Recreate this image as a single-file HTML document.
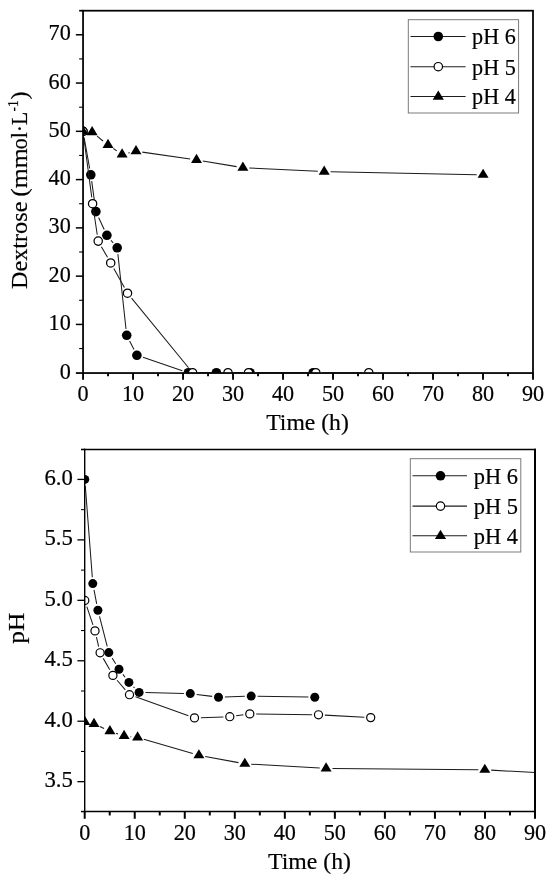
<!DOCTYPE html>
<html lang="en">
<head>
<meta charset="utf-8">
<title>Dextrose and pH versus time</title>
<style>
html,body{margin:0;padding:0;background:#fff;}
svg{display:block;}
text{font-family:"Liberation Serif", serif;fill:#000;stroke:#000;stroke-width:0.2px;}
</style>
</head>
<body>
<svg width="550" height="878" viewBox="0 0 550 878">
<rect x="0" y="0" width="550" height="878" fill="#fff"/>
<clipPath id="c1"><rect x="83.0" y="10.7" width="450.4" height="362.0"/></clipPath>
<g clip-path="url(#c1)">
<path d="M84.13 137.70L89.67 168.50M91.68 181.14L95.02 205.26M98.59 217.41L104.21 229.49M110.97 240.24L113.13 242.86M117.89 254.16L126.01 328.94M129.61 341.00L133.99 349.60M142.96 357.35L182.34 370.65M194.80 372.70L210.00 372.70M222.80 372.70L243.60 372.70M256.40 372.70L306.80 372.70" fill="none" stroke="#1c1c1c" stroke-width="1.05"/>
<circle cx="83.00" cy="131.40" r="4.80" fill="#000"/>
<circle cx="90.80" cy="174.80" r="4.80" fill="#000"/>
<circle cx="95.90" cy="211.60" r="4.80" fill="#000"/>
<circle cx="106.90" cy="235.30" r="4.80" fill="#000"/>
<circle cx="117.20" cy="247.80" r="4.80" fill="#000"/>
<circle cx="126.70" cy="335.30" r="4.80" fill="#000"/>
<circle cx="136.90" cy="355.30" r="4.80" fill="#000"/>
<circle cx="188.40" cy="372.70" r="4.80" fill="#000"/>
<circle cx="216.40" cy="372.70" r="4.80" fill="#000"/>
<circle cx="250.00" cy="372.70" r="4.80" fill="#000"/>
<circle cx="313.20" cy="372.70" r="4.80" fill="#000"/>
<path d="M83.84 137.74L91.76 197.36M93.55 210.03L97.25 234.77M101.38 246.65L107.52 257.35M113.80 268.50L124.40 287.60M131.55 298.15L188.55 367.75M199.00 372.70L221.60 372.70M234.40 372.70L242.10 372.70M254.90 372.70L309.40 372.70M322.20 372.70L362.40 372.70" fill="none" stroke="#1c1c1c" stroke-width="1.05"/>
<circle cx="83.00" cy="131.40" r="4.15" fill="#fff" stroke="#000" stroke-width="1.25"/>
<circle cx="92.60" cy="203.70" r="4.15" fill="#fff" stroke="#000" stroke-width="1.25"/>
<circle cx="98.20" cy="241.10" r="4.15" fill="#fff" stroke="#000" stroke-width="1.25"/>
<circle cx="110.70" cy="262.90" r="4.15" fill="#fff" stroke="#000" stroke-width="1.25"/>
<circle cx="127.50" cy="293.20" r="4.15" fill="#fff" stroke="#000" stroke-width="1.25"/>
<circle cx="192.60" cy="372.70" r="4.15" fill="#fff" stroke="#000" stroke-width="1.25"/>
<circle cx="228.00" cy="372.70" r="4.15" fill="#fff" stroke="#000" stroke-width="1.25"/>
<circle cx="248.50" cy="372.70" r="4.15" fill="#fff" stroke="#000" stroke-width="1.25"/>
<circle cx="315.80" cy="372.70" r="4.15" fill="#fff" stroke="#000" stroke-width="1.25"/>
<circle cx="368.80" cy="372.70" r="4.15" fill="#fff" stroke="#000" stroke-width="1.25"/>
<path d="M97.09 136.21L103.01 140.99M113.33 148.55L116.77 150.85M128.34 152.96L129.76 152.64M142.33 152.11L190.17 158.99M202.81 160.96L236.59 166.64M249.29 168.01L317.81 171.29M330.60 171.73L476.70 174.67" fill="none" stroke="#1c1c1c" stroke-width="1.05"/>
<polygon points="83.00,125.47 77.50,134.67 88.50,134.67" fill="#000"/>
<polygon points="92.10,126.07 86.60,135.27 97.60,135.27" fill="#000"/>
<polygon points="108.00,138.87 102.50,148.07 113.50,148.07" fill="#000"/>
<polygon points="122.10,148.27 116.60,157.47 127.60,157.47" fill="#000"/>
<polygon points="136.00,145.07 130.50,154.27 141.50,154.27" fill="#000"/>
<polygon points="196.50,153.77 191.00,162.97 202.00,162.97" fill="#000"/>
<polygon points="242.90,161.57 237.40,170.77 248.40,170.77" fill="#000"/>
<polygon points="324.20,165.47 318.70,174.67 329.70,174.67" fill="#000"/>
<polygon points="483.10,168.67 477.60,177.87 488.60,177.87" fill="#000"/>
</g>
<rect x="83.05" y="10.7" width="449.95" height="362.35" fill="none" stroke="#000" stroke-width="1.75"/>
<line x1="83.05" y1="373.05" x2="83.05" y2="379.75" stroke="#000" stroke-width="1.9" />
<text x="83.05" y="400.90" font-size="23" text-anchor="middle" textLength="11.1" lengthAdjust="spacingAndGlyphs" >0</text>
<line x1="108.05" y1="373.05" x2="108.05" y2="376.35" stroke="#000" stroke-width="1.9" />
<line x1="133.04" y1="373.05" x2="133.04" y2="379.75" stroke="#000" stroke-width="1.9" />
<text x="133.04" y="400.90" font-size="23" text-anchor="middle" textLength="22.2" lengthAdjust="spacingAndGlyphs" >10</text>
<line x1="158.04" y1="373.05" x2="158.04" y2="376.35" stroke="#000" stroke-width="1.9" />
<line x1="183.04" y1="373.05" x2="183.04" y2="379.75" stroke="#000" stroke-width="1.9" />
<text x="183.04" y="400.90" font-size="23" text-anchor="middle" textLength="22.2" lengthAdjust="spacingAndGlyphs" >20</text>
<line x1="208.04" y1="373.05" x2="208.04" y2="376.35" stroke="#000" stroke-width="1.9" />
<line x1="233.03" y1="373.05" x2="233.03" y2="379.75" stroke="#000" stroke-width="1.9" />
<text x="233.03" y="400.90" font-size="23" text-anchor="middle" textLength="22.2" lengthAdjust="spacingAndGlyphs" >30</text>
<line x1="258.03" y1="373.05" x2="258.03" y2="376.35" stroke="#000" stroke-width="1.9" />
<line x1="283.03" y1="373.05" x2="283.03" y2="379.75" stroke="#000" stroke-width="1.9" />
<text x="283.03" y="400.90" font-size="23" text-anchor="middle" textLength="22.2" lengthAdjust="spacingAndGlyphs" >40</text>
<line x1="308.02" y1="373.05" x2="308.02" y2="376.35" stroke="#000" stroke-width="1.9" />
<line x1="333.02" y1="373.05" x2="333.02" y2="379.75" stroke="#000" stroke-width="1.9" />
<text x="333.02" y="400.90" font-size="23" text-anchor="middle" textLength="22.2" lengthAdjust="spacingAndGlyphs" >50</text>
<line x1="358.02" y1="373.05" x2="358.02" y2="376.35" stroke="#000" stroke-width="1.9" />
<line x1="383.02" y1="373.05" x2="383.02" y2="379.75" stroke="#000" stroke-width="1.9" />
<text x="383.02" y="400.90" font-size="23" text-anchor="middle" textLength="22.2" lengthAdjust="spacingAndGlyphs" >60</text>
<line x1="408.01" y1="373.05" x2="408.01" y2="376.35" stroke="#000" stroke-width="1.9" />
<line x1="433.01" y1="373.05" x2="433.01" y2="379.75" stroke="#000" stroke-width="1.9" />
<text x="433.01" y="400.90" font-size="23" text-anchor="middle" textLength="22.2" lengthAdjust="spacingAndGlyphs" >70</text>
<line x1="458.01" y1="373.05" x2="458.01" y2="376.35" stroke="#000" stroke-width="1.9" />
<line x1="483.01" y1="373.05" x2="483.01" y2="379.75" stroke="#000" stroke-width="1.9" />
<text x="483.01" y="400.90" font-size="23" text-anchor="middle" textLength="22.2" lengthAdjust="spacingAndGlyphs" >80</text>
<line x1="508.00" y1="373.05" x2="508.00" y2="376.35" stroke="#000" stroke-width="1.9" />
<line x1="533.00" y1="373.05" x2="533.00" y2="379.75" stroke="#000" stroke-width="1.9" />
<text x="533.00" y="400.90" font-size="23" text-anchor="middle" textLength="22.2" lengthAdjust="spacingAndGlyphs" >90</text>
<line x1="75.85" y1="373.05" x2="83.05" y2="373.05" stroke="#000" stroke-width="1.75" />
<text x="70.80" y="378.65" font-size="23" text-anchor="end" textLength="11.1" lengthAdjust="spacingAndGlyphs" >0</text>
<line x1="79.15" y1="348.56" x2="83.05" y2="348.56" stroke="#000" stroke-width="1.1" />
<line x1="75.85" y1="324.43" x2="83.05" y2="324.43" stroke="#000" stroke-width="1.5" />
<text x="70.80" y="330.03" font-size="23" text-anchor="end" textLength="22.2" lengthAdjust="spacingAndGlyphs" >10</text>
<line x1="79.15" y1="300.29" x2="83.05" y2="300.29" stroke="#000" stroke-width="1.1" />
<line x1="75.85" y1="276.15" x2="83.05" y2="276.15" stroke="#000" stroke-width="1.5" />
<text x="70.80" y="281.75" font-size="23" text-anchor="end" textLength="22.2" lengthAdjust="spacingAndGlyphs" >20</text>
<line x1="79.15" y1="252.01" x2="83.05" y2="252.01" stroke="#000" stroke-width="1.1" />
<line x1="75.85" y1="227.88" x2="83.05" y2="227.88" stroke="#000" stroke-width="1.5" />
<text x="70.80" y="233.47" font-size="23" text-anchor="end" textLength="22.2" lengthAdjust="spacingAndGlyphs" >30</text>
<line x1="79.15" y1="203.74" x2="83.05" y2="203.74" stroke="#000" stroke-width="1.1" />
<line x1="75.85" y1="179.60" x2="83.05" y2="179.60" stroke="#000" stroke-width="1.5" />
<text x="70.80" y="185.20" font-size="23" text-anchor="end" textLength="22.2" lengthAdjust="spacingAndGlyphs" >40</text>
<line x1="79.15" y1="155.46" x2="83.05" y2="155.46" stroke="#000" stroke-width="1.1" />
<line x1="75.85" y1="131.33" x2="83.05" y2="131.33" stroke="#000" stroke-width="1.5" />
<text x="70.80" y="136.93" font-size="23" text-anchor="end" textLength="22.2" lengthAdjust="spacingAndGlyphs" >50</text>
<line x1="79.15" y1="107.19" x2="83.05" y2="107.19" stroke="#000" stroke-width="1.1" />
<line x1="75.85" y1="83.05" x2="83.05" y2="83.05" stroke="#000" stroke-width="1.5" />
<text x="70.80" y="88.65" font-size="23" text-anchor="end" textLength="22.2" lengthAdjust="spacingAndGlyphs" >60</text>
<line x1="79.15" y1="58.91" x2="83.05" y2="58.91" stroke="#000" stroke-width="1.1" />
<line x1="75.85" y1="34.78" x2="83.05" y2="34.78" stroke="#000" stroke-width="1.5" />
<text x="70.80" y="40.38" font-size="23" text-anchor="end" textLength="22.2" lengthAdjust="spacingAndGlyphs" >70</text>
<line x1="79.15" y1="10.70" x2="83.05" y2="10.70" stroke="#000" stroke-width="1.75" />
<text x="266.20" y="429.50" font-size="24" text-anchor="start" textLength="82.6" lengthAdjust="spacingAndGlyphs" >Time (h)</text>
<g transform="translate(27.1,289.0) rotate(-90)">
<text x="0.00" y="0.00" font-size="24" text-anchor="start" textLength="87.4" lengthAdjust="spacingAndGlyphs" >Dextrose</text>
<text x="92.20" y="0.00" font-size="24" text-anchor="start" textLength="48.5" lengthAdjust="spacingAndGlyphs" >(mm</text>
<text x="139.80" y="0.00" font-size="24" text-anchor="start" textLength="37.4" lengthAdjust="spacingAndGlyphs" >ol·L</text>
<text x="177.60" y="-9.00" font-size="14.5" text-anchor="start" textLength="11.2" lengthAdjust="spacingAndGlyphs" >-1</text>
<text x="189.40" y="0.00" font-size="24" text-anchor="start" >)</text>
</g>
<rect x="408.30" y="19.70" width="110.30" height="93.30" fill="#fff" stroke="#747474" stroke-width="0.95"/>
<line x1="410.50" y1="36.50" x2="465.60" y2="36.50" stroke="#1c1c1c" stroke-width="1.05" />
<circle cx="438.30" cy="36.50" r="4.80" fill="#000"/>
<text x="472.10" y="44.30" font-size="22.6" text-anchor="start" textLength="43.7" lengthAdjust="spacingAndGlyphs" >pH 6</text>
<line x1="410.50" y1="66.70" x2="465.60" y2="66.70" stroke="#1c1c1c" stroke-width="1.05" />
<circle cx="438.30" cy="66.70" r="4.20" fill="#fff" stroke="#000" stroke-width="1.2"/>
<text x="472.10" y="74.50" font-size="22.6" text-anchor="start" textLength="43.7" lengthAdjust="spacingAndGlyphs" >pH 5</text>
<line x1="410.50" y1="96.40" x2="465.60" y2="96.40" stroke="#1c1c1c" stroke-width="1.05" />
<polygon points="438.30,90.40 432.70,99.70 443.90,99.70" fill="#000"/>
<text x="472.10" y="104.20" font-size="22.6" text-anchor="start" textLength="43.7" lengthAdjust="spacingAndGlyphs" >pH 4</text>
<clipPath id="c2"><rect x="84.5" y="449.1" width="450.20000000000005" height="362.69999999999993"/></clipPath>
<g clip-path="url(#c2)"><g transform="translate(0.3,0.3)">
<path d="M84.99 485.48L92.01 576.92M93.71 589.59L96.39 603.61M99.19 616.10L106.91 646.10M111.84 657.76L115.36 663.54M122.56 674.11L124.74 676.99M133.17 686.58L134.23 687.62M145.20 692.25L183.60 693.15M196.35 694.11L211.85 696.09M224.60 696.68L244.50 696.02M257.30 695.91L308.10 696.79" fill="none" stroke="#1c1c1c" stroke-width="1.05"/>
<circle cx="84.50" cy="479.10" r="4.50" fill="#000"/>
<circle cx="92.50" cy="583.30" r="4.50" fill="#000"/>
<circle cx="97.60" cy="609.90" r="4.50" fill="#000"/>
<circle cx="108.50" cy="652.30" r="4.50" fill="#000"/>
<circle cx="118.70" cy="669.00" r="4.50" fill="#000"/>
<circle cx="128.60" cy="682.10" r="4.50" fill="#000"/>
<circle cx="138.80" cy="692.10" r="4.50" fill="#000"/>
<circle cx="190.00" cy="693.30" r="4.50" fill="#000"/>
<circle cx="218.20" cy="696.90" r="4.50" fill="#000"/>
<circle cx="250.90" cy="695.80" r="4.50" fill="#000"/>
<circle cx="314.50" cy="696.90" r="4.50" fill="#000"/>
<path d="M86.54 606.27L92.66 624.53M96.15 636.83L98.35 646.27M102.95 658.07L109.45 669.53M116.77 679.95L125.03 689.55M135.23 696.55L188.17 715.45M200.60 717.38L223.10 716.62M235.84 715.51L243.16 714.49M255.90 713.68L311.80 714.42M324.59 714.84L364.01 716.96" fill="none" stroke="#1c1c1c" stroke-width="1.05"/>
<circle cx="84.50" cy="600.20" r="4.05" fill="#fff" stroke="#000" stroke-width="1.2"/>
<circle cx="94.70" cy="630.60" r="4.05" fill="#fff" stroke="#000" stroke-width="1.2"/>
<circle cx="99.80" cy="652.50" r="4.05" fill="#fff" stroke="#000" stroke-width="1.2"/>
<circle cx="112.60" cy="675.10" r="4.05" fill="#fff" stroke="#000" stroke-width="1.2"/>
<circle cx="129.20" cy="694.40" r="4.05" fill="#fff" stroke="#000" stroke-width="1.2"/>
<circle cx="194.20" cy="717.60" r="4.05" fill="#fff" stroke="#000" stroke-width="1.2"/>
<circle cx="229.50" cy="716.40" r="4.05" fill="#fff" stroke="#000" stroke-width="1.2"/>
<circle cx="249.50" cy="713.60" r="4.05" fill="#fff" stroke="#000" stroke-width="1.2"/>
<circle cx="318.20" cy="714.50" r="4.05" fill="#fff" stroke="#000" stroke-width="1.2"/>
<circle cx="370.40" cy="717.30" r="4.05" fill="#fff" stroke="#000" stroke-width="1.2"/>
<path d="M99.52 726.27L103.78 728.23M115.66 732.95L117.74 733.65M130.16 736.41L130.94 736.49M143.45 738.98L192.45 753.22M204.89 756.17L238.21 762.33M250.89 763.86L319.41 767.74M332.20 768.16L478.10 769.44M490.89 769.84L534.70 772.20" fill="none" stroke="#1c1c1c" stroke-width="1.05"/>
<polygon points="84.50,715.47 79.00,724.67 90.00,724.67" fill="#000"/>
<polygon points="93.70,717.47 88.20,726.67 99.20,726.67" fill="#000"/>
<polygon points="109.60,724.77 104.10,733.97 115.10,733.97" fill="#000"/>
<polygon points="123.80,729.57 118.30,738.77 129.30,738.77" fill="#000"/>
<polygon points="137.30,731.07 131.80,740.27 142.80,740.27" fill="#000"/>
<polygon points="198.60,748.87 193.10,758.07 204.10,758.07" fill="#000"/>
<polygon points="244.50,757.37 239.00,766.57 250.00,766.57" fill="#000"/>
<polygon points="325.80,761.97 320.30,771.17 331.30,771.17" fill="#000"/>
<polygon points="484.50,763.37 479.00,772.57 490.00,772.57" fill="#000"/>
</g></g>
<line x1="84.70" y1="448.70" x2="84.70" y2="812.30" stroke="#000" stroke-width="1.4" />
<line x1="535.00" y1="448.70" x2="535.00" y2="812.30" stroke="#000" stroke-width="2.0" />
<line x1="84.00" y1="449.50" x2="536.00" y2="449.50" stroke="#000" stroke-width="1.6" />
<line x1="84.00" y1="811.55" x2="536.00" y2="811.55" stroke="#000" stroke-width="1.5" />
<line x1="84.70" y1="811.55" x2="84.70" y2="818.75" stroke="#000" stroke-width="2.0" />
<text x="84.70" y="839.70" font-size="23" text-anchor="middle" textLength="11.1" lengthAdjust="spacingAndGlyphs" >0</text>
<line x1="109.72" y1="811.55" x2="109.72" y2="815.45" stroke="#000" stroke-width="2.0" />
<line x1="134.73" y1="811.55" x2="134.73" y2="818.75" stroke="#000" stroke-width="2.0" />
<text x="134.73" y="839.70" font-size="23" text-anchor="middle" textLength="22.2" lengthAdjust="spacingAndGlyphs" >10</text>
<line x1="159.75" y1="811.55" x2="159.75" y2="815.45" stroke="#000" stroke-width="2.0" />
<line x1="184.77" y1="811.55" x2="184.77" y2="818.75" stroke="#000" stroke-width="2.0" />
<text x="184.77" y="839.70" font-size="23" text-anchor="middle" textLength="22.2" lengthAdjust="spacingAndGlyphs" >20</text>
<line x1="209.78" y1="811.55" x2="209.78" y2="815.45" stroke="#000" stroke-width="2.0" />
<line x1="234.80" y1="811.55" x2="234.80" y2="818.75" stroke="#000" stroke-width="2.0" />
<text x="234.80" y="839.70" font-size="23" text-anchor="middle" textLength="22.2" lengthAdjust="spacingAndGlyphs" >30</text>
<line x1="259.82" y1="811.55" x2="259.82" y2="815.45" stroke="#000" stroke-width="2.0" />
<line x1="284.83" y1="811.55" x2="284.83" y2="818.75" stroke="#000" stroke-width="2.0" />
<text x="284.83" y="839.70" font-size="23" text-anchor="middle" textLength="22.2" lengthAdjust="spacingAndGlyphs" >40</text>
<line x1="309.85" y1="811.55" x2="309.85" y2="815.45" stroke="#000" stroke-width="2.0" />
<line x1="334.87" y1="811.55" x2="334.87" y2="818.75" stroke="#000" stroke-width="2.0" />
<text x="334.87" y="839.70" font-size="23" text-anchor="middle" textLength="22.2" lengthAdjust="spacingAndGlyphs" >50</text>
<line x1="359.88" y1="811.55" x2="359.88" y2="815.45" stroke="#000" stroke-width="2.0" />
<line x1="384.90" y1="811.55" x2="384.90" y2="818.75" stroke="#000" stroke-width="2.0" />
<text x="384.90" y="839.70" font-size="23" text-anchor="middle" textLength="22.2" lengthAdjust="spacingAndGlyphs" >60</text>
<line x1="409.92" y1="811.55" x2="409.92" y2="815.45" stroke="#000" stroke-width="2.0" />
<line x1="434.93" y1="811.55" x2="434.93" y2="818.75" stroke="#000" stroke-width="2.0" />
<text x="434.93" y="839.70" font-size="23" text-anchor="middle" textLength="22.2" lengthAdjust="spacingAndGlyphs" >70</text>
<line x1="459.95" y1="811.55" x2="459.95" y2="815.45" stroke="#000" stroke-width="2.0" />
<line x1="484.97" y1="811.55" x2="484.97" y2="818.75" stroke="#000" stroke-width="2.0" />
<text x="484.97" y="839.70" font-size="23" text-anchor="middle" textLength="22.2" lengthAdjust="spacingAndGlyphs" >80</text>
<line x1="509.98" y1="811.55" x2="509.98" y2="815.45" stroke="#000" stroke-width="2.0" />
<line x1="535.00" y1="811.55" x2="535.00" y2="818.75" stroke="#000" stroke-width="2.0" />
<text x="535.00" y="839.70" font-size="23" text-anchor="middle" textLength="22.2" lengthAdjust="spacingAndGlyphs" >90</text>
<line x1="81.00" y1="811.55" x2="84.70" y2="811.55" stroke="#000" stroke-width="1.5" />
<line x1="77.40" y1="781.67" x2="84.70" y2="781.67" stroke="#000" stroke-width="1.3" />
<text x="72.80" y="787.17" font-size="23" text-anchor="end" textLength="28.4" lengthAdjust="spacingAndGlyphs" >3.5</text>
<line x1="81.00" y1="751.45" x2="84.70" y2="751.45" stroke="#000" stroke-width="1.05" />
<line x1="77.40" y1="721.22" x2="84.70" y2="721.22" stroke="#000" stroke-width="1.3" />
<text x="72.80" y="726.72" font-size="23" text-anchor="end" textLength="28.4" lengthAdjust="spacingAndGlyphs" >4.0</text>
<line x1="81.00" y1="691.00" x2="84.70" y2="691.00" stroke="#000" stroke-width="1.05" />
<line x1="77.40" y1="660.77" x2="84.70" y2="660.77" stroke="#000" stroke-width="1.3" />
<text x="72.80" y="666.27" font-size="23" text-anchor="end" textLength="28.4" lengthAdjust="spacingAndGlyphs" >4.5</text>
<line x1="81.00" y1="630.55" x2="84.70" y2="630.55" stroke="#000" stroke-width="1.05" />
<line x1="77.40" y1="600.32" x2="84.70" y2="600.32" stroke="#000" stroke-width="1.3" />
<text x="72.80" y="605.82" font-size="23" text-anchor="end" textLength="28.4" lengthAdjust="spacingAndGlyphs" >5.0</text>
<line x1="81.00" y1="570.10" x2="84.70" y2="570.10" stroke="#000" stroke-width="1.05" />
<line x1="77.40" y1="539.88" x2="84.70" y2="539.88" stroke="#000" stroke-width="1.3" />
<text x="72.80" y="545.38" font-size="23" text-anchor="end" textLength="28.4" lengthAdjust="spacingAndGlyphs" >5.5</text>
<line x1="81.00" y1="509.65" x2="84.70" y2="509.65" stroke="#000" stroke-width="1.05" />
<line x1="77.40" y1="479.42" x2="84.70" y2="479.42" stroke="#000" stroke-width="1.3" />
<text x="72.80" y="484.92" font-size="23" text-anchor="end" textLength="28.4" lengthAdjust="spacingAndGlyphs" >6.0</text>
<line x1="81.00" y1="449.50" x2="84.70" y2="449.50" stroke="#000" stroke-width="1.6" />
<text x="268.00" y="869.00" font-size="24" text-anchor="start" textLength="83.0" lengthAdjust="spacingAndGlyphs" >Time (h)</text>
<g transform="translate(23.7,643.8) rotate(-90)">
<text x="0.00" y="0.00" font-size="24" text-anchor="start" textLength="31.0" lengthAdjust="spacingAndGlyphs" >pH</text>
</g>
<rect x="410.30" y="458.70" width="110.50" height="93.30" fill="#fff" stroke="#747474" stroke-width="0.95"/>
<line x1="412.50" y1="475.80" x2="467.00" y2="475.80" stroke="#1c1c1c" stroke-width="1.05" />
<circle cx="440.50" cy="475.80" r="4.80" fill="#000"/>
<text x="473.80" y="483.60" font-size="22.6" text-anchor="start" textLength="44.2" lengthAdjust="spacingAndGlyphs" >pH 6</text>
<line x1="412.50" y1="506.10" x2="467.00" y2="506.10" stroke="#1c1c1c" stroke-width="1.05" />
<circle cx="440.50" cy="506.10" r="4.20" fill="#fff" stroke="#000" stroke-width="1.2"/>
<text x="473.80" y="513.90" font-size="22.6" text-anchor="start" textLength="44.2" lengthAdjust="spacingAndGlyphs" >pH 5</text>
<line x1="412.50" y1="535.80" x2="467.00" y2="535.80" stroke="#1c1c1c" stroke-width="1.05" />
<polygon points="440.50,529.80 434.90,539.10 446.10,539.10" fill="#000"/>
<text x="473.80" y="543.60" font-size="22.6" text-anchor="start" textLength="44.2" lengthAdjust="spacingAndGlyphs" >pH 4</text>
</svg>
</body>
</html>
